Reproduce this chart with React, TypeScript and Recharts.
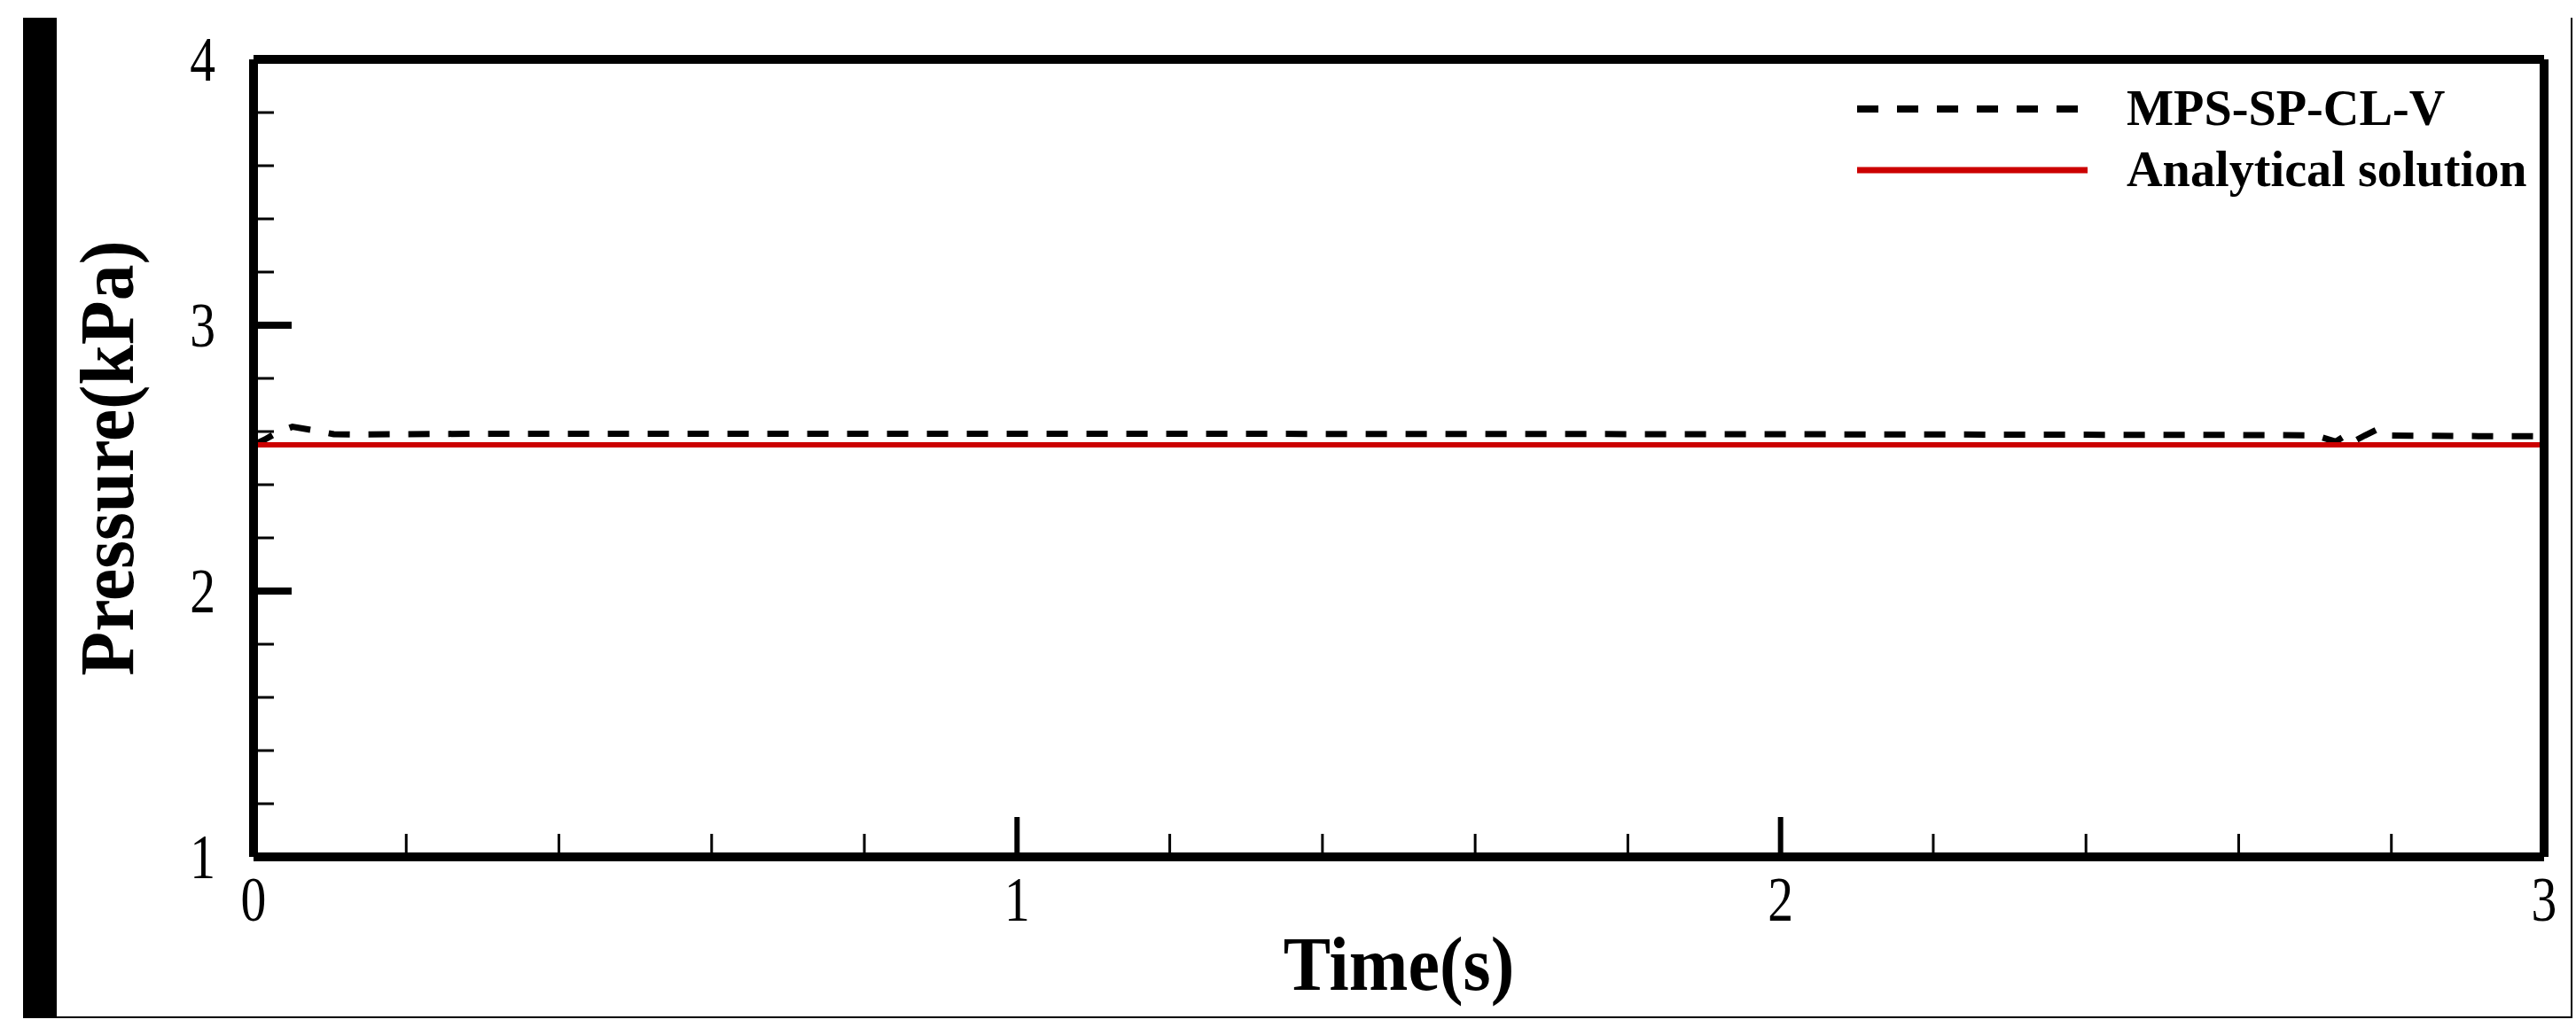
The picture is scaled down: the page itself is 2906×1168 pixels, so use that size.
import React from "react";
import { LineChart, Line, XAxis, YAxis } from "recharts";

const TIME = [0, 0.015, 0.03, 0.051, 0.082, 0.105, 0.132, 0.3, 0.6, 1.0, 1.5, 2.0, 2.4, 2.6, 2.7, 2.727, 2.74, 2.749, 2.765, 2.784, 2.8, 2.9, 3.0];
const MPS = [2.55, 2.57, 2.595, 2.618, 2.603, 2.59, 2.589, 2.592, 2.592, 2.592, 2.591, 2.59, 2.588, 2.587, 2.586, 2.562, 2.585, 2.56, 2.585, 2.612, 2.585, 2.583, 2.582];
const ANALYTICAL = [2.55, 2.55, 2.55, 2.55, 2.55, 2.55, 2.55, 2.55, 2.55, 2.55, 2.55, 2.55, 2.55, 2.55, 2.55, 2.55, 2.55, 2.55, 2.55, 2.55, 2.55, 2.55, 2.55];

const X_TICKS = [0, 0.2, 0.4, 0.6, 0.8, 1, 1.2, 1.4, 1.6, 1.8, 2, 2.2, 2.4, 2.6, 2.8, 3];
const Y_TICKS = [1, 1.2, 1.4, 1.6, 1.8, 2, 2.2, 2.4, 2.6, 2.8, 3, 3.2, 3.4, 3.6, 3.8, 4];

const SERIES_NAMES = ["MPS-SP-CL-V", "Analytical solution"];
const SERIES_COLORS = ["#000000", "#cc0000"];
const SERIES_DASH = ["24 21", undefined];
const X_LABEL = "Time(s)";
const Y_LABEL = "Pressure(kPa)";

const data = TIME.map((t, i) => ({ t, mps: MPS[i], ana: ANALYTICAL[i] }));

const FONT = '"Liberation Serif", "Times New Roman", serif';

const YTick = (props: any) => {
  const { x, y, payload } = props;
  const v = payload.value;
  const major = Number.isInteger(v);
  return (
    <g>
      <line
        x1={x}
        x2={x + (major ? 43 : 23)}
        y1={y}
        y2={y}
        stroke="#000"
        strokeWidth={major ? 8 : 3}
      />
      {major && (
        <text
          transform={`translate(${x - 43},${y}) scale(0.8,1)`}
          dy="0.34em"
          textAnchor="end"
          fontFamily={FONT}
          fontSize={72}
          fill="#000"
        >
          {v}
        </text>
      )}
    </g>
  );
};

const XTick = (props: any) => {
  const { x, y, payload } = props;
  const v = payload.value;
  const major = Number.isInteger(v);
  return (
    <g>
      <line
        x1={x}
        x2={x}
        y1={y}
        y2={y - (major ? 45 : 26)}
        stroke="#000"
        strokeWidth={major ? 6 : 3}
      />
      {major && (
        <text
          transform={`translate(${x},${y + 72}) scale(0.8,1)`}
          textAnchor="middle"
          fontFamily={FONT}
          fontSize={72}
          fill="#000"
        >
          {v}
        </text>
      )}
    </g>
  );
};

const YLabel = (props: any) => {
  const vb = props.viewBox || {};
  const cy = vb.y + vb.height / 2;
  const bx = vb.x + vb.width - 136;
  return (
    <text
      transform={`translate(${bx},${cy}) rotate(-90) scale(0.95,1)`}
      textAnchor="middle"
      fontFamily={FONT}
      fontWeight="bold"
      fontSize={86}
      fill="#000"
    >
      {Y_LABEL}
    </text>
  );
};

const XLabel = (props: any) => {
  const vb = props.viewBox || {};
  const cx = vb.x + vb.width / 2;
  return (
    <text
      transform={`translate(${cx},${vb.y + 150}) scale(0.93,1)`}
      textAnchor="middle"
      fontFamily={FONT}
      fontWeight="bold"
      fontSize={86}
      fill="#000"
    >
      {X_LABEL}
    </text>
  );
};

const ChartLegend = () => (
  <svg
    width={800}
    height={140}
    style={{ position: "absolute", left: 2085, top: 90, display: "block", overflow: "visible" }}
  >
    {SERIES_NAMES.map((name, i) => {
      const ly = 33 + i * 69;
      const dash = SERIES_DASH[i];
      return (
        <g key={i}>
          <line
            x1={10}
            x2={dash ? 265 : 270}
            y1={ly}
            y2={ly}
            stroke={SERIES_COLORS[i]}
            strokeWidth={dash ? 8 : 7}
            strokeDasharray={dash}
          />
          <text
            transform={`translate(314,${ly + 18}) scale(0.97,1)`}
            fontFamily={FONT}
            fontWeight="bold"
            fontSize={58}
            fill="#000"
          >
            {name}
          </text>
        </g>
      );
    })}
  </svg>
);

export default function App() {
  return (
    <div style={{ position: "absolute", left: 0, top: 0, width: 2906, height: 1168, background: "#fff" }}>
      <div style={{ position: "absolute", left: 26, top: 20, width: 38, height: 1128, background: "#000" }} />
      <div style={{ position: "absolute", left: 26, top: 1147, width: 2876, height: 2, background: "#000" }} />
      <div style={{ position: "absolute", left: 2900, top: 20, width: 2, height: 1129, background: "#000" }} />
      <div style={{ position: "absolute", left: 0, top: 0 }}>
        <LineChart
          width={2906}
          height={1168}
          data={data}
          margin={{ top: 66, right: 35, bottom: 200, left: 285 }}
        >
          <XAxis
            dataKey="t"
            type="number"
            domain={[0, 3]}
            ticks={X_TICKS}
            interval={0}
            height={1}
            tickSize={0}
            tickMargin={0}
            tickLine={false}
            tick={<XTick />}
            axisLine={{ stroke: "#000", strokeWidth: 10 }}
            allowDataOverflow
            label={<XLabel />}
          />
          <XAxis
            xAxisId="top"
            orientation="top"
            dataKey="t"
            type="number"
            domain={[0, 3]}
            height={1}
            tick={false}
            tickLine={false}
            axisLine={{ stroke: "#000", strokeWidth: 10 }}
          />
          <YAxis
            type="number"
            domain={[1, 4]}
            ticks={Y_TICKS}
            interval={0}
            width={1}
            tickSize={0}
            tickMargin={0}
            tickLine={false}
            tick={<YTick />}
            axisLine={{ stroke: "#000", strokeWidth: 10 }}
            allowDataOverflow
            label={<YLabel />}
          />
          <YAxis
            yAxisId="right"
            orientation="right"
            type="number"
            domain={[1, 4]}
            width={1}
            tick={false}
            tickLine={false}
            axisLine={{ stroke: "#000", strokeWidth: 10 }}
          />
          <Line
            name={SERIES_NAMES[0]}
            type="linear"
            dataKey="mps"
            stroke={SERIES_COLORS[0]}
            strokeWidth={7}
            strokeDasharray={SERIES_DASH[0]}
            dot={false}
            isAnimationActive={false}
          />
          <Line
            name={SERIES_NAMES[1]}
            type="linear"
            dataKey="ana"
            stroke={SERIES_COLORS[1]}
            strokeWidth={6}
            dot={false}
            isAnimationActive={false}
          />
        </LineChart>
      </div>
      <ChartLegend />
    </div>
  );
}
